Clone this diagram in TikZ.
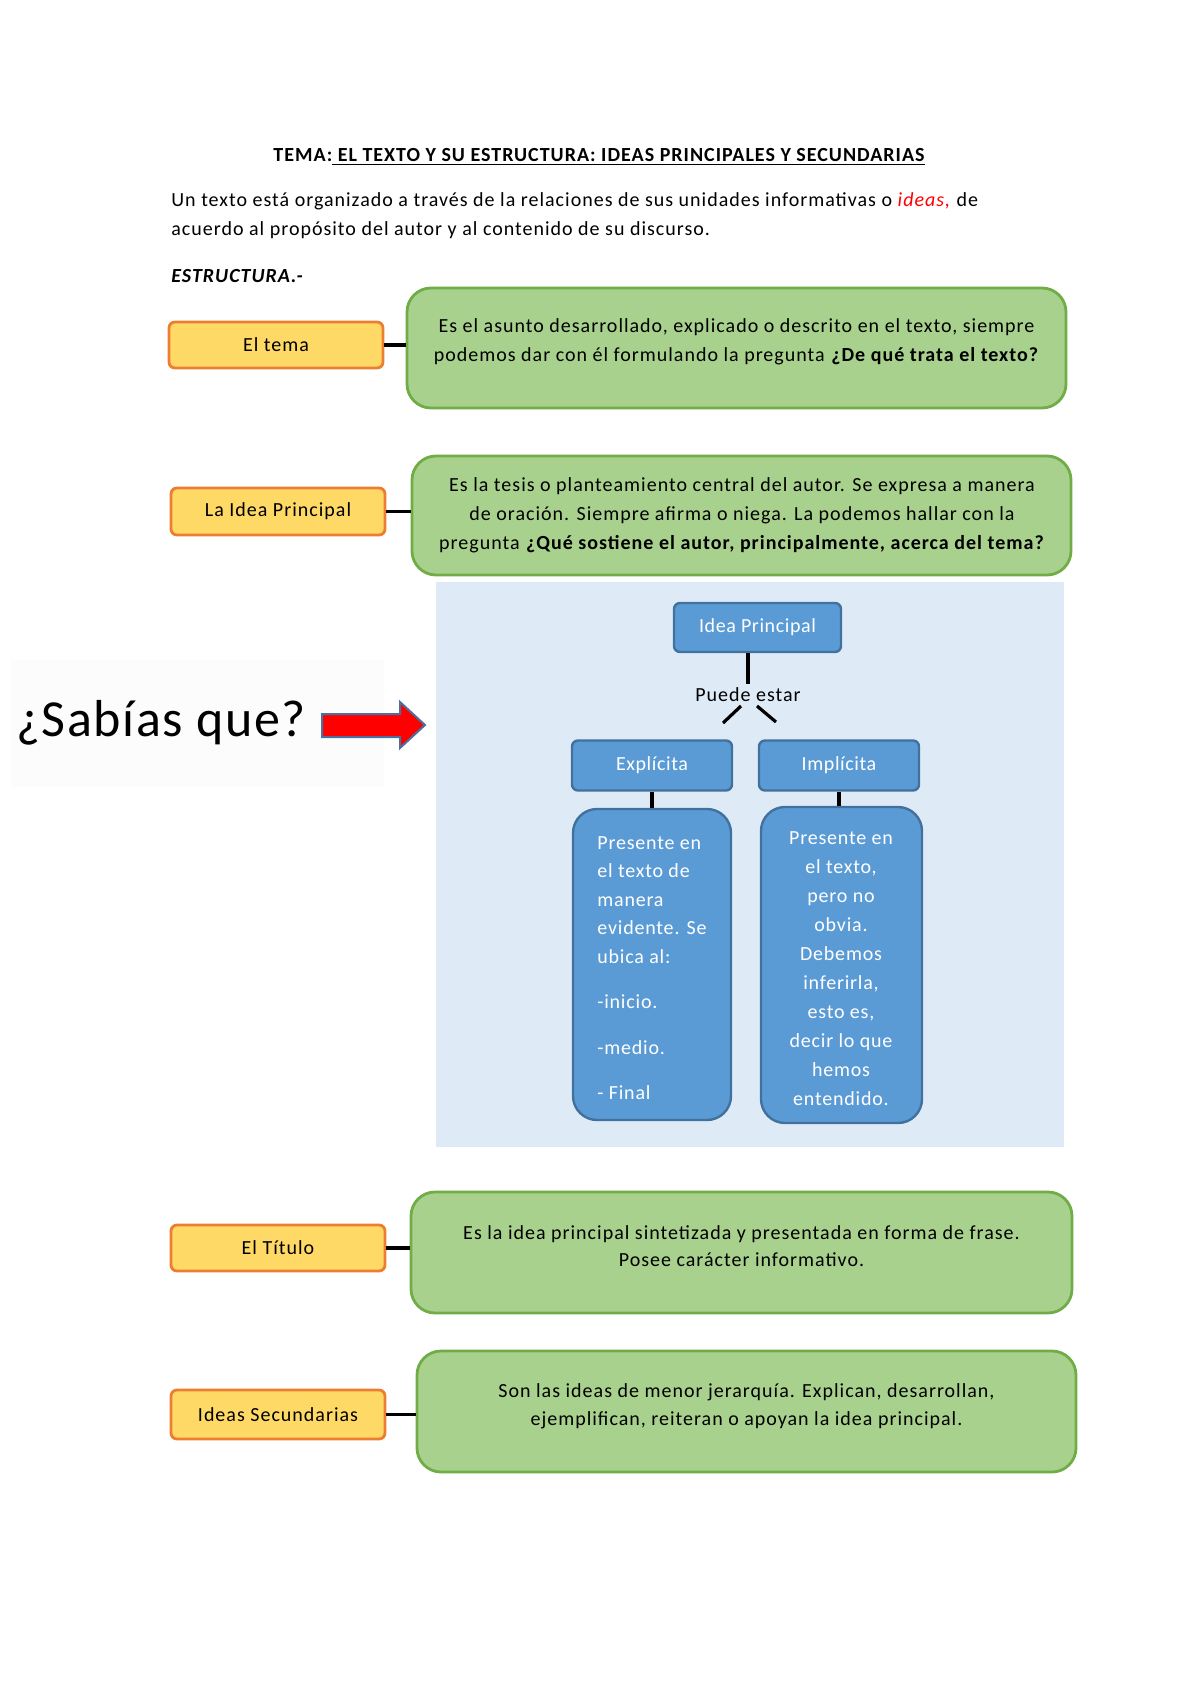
\documentclass[tikz,border=0pt]{standalone}
\usepackage{fontspec}
\setmainfont{Carlito}
\usetikzlibrary{calc}
\definecolor{yfill}{HTML}{FFD966}
\definecolor{oborder}{HTML}{ED7D31}
\definecolor{gfill}{HTML}{A9D18E}
\definecolor{gborder}{HTML}{70AD47}
\definecolor{bfill}{HTML}{5B9BD5}
\definecolor{bborder}{HTML}{41719C}
\definecolor{lbg}{HTML}{DEEBF7}
\definecolor{arrowborder}{HTML}{4A70A0}
\newcommand\docfont{\fontsize{10}{14.5}\selectfont\addfontfeatures{LetterSpace=5}}
\begin{document}
\begin{tikzpicture}[x=0.5pt,y=-0.5pt,
 label box/.style={draw=oborder, fill=yfill, line width=1.4pt, rounded corners=3pt, minimum width=107pt, minimum height=23pt, inner sep=0pt, font=\docfont},
 green box/.style={draw=gborder, fill=gfill, line width=1.4pt, rounded corners=12pt, minimum width=329.5pt, minimum height=60pt, inner sep=0pt},
 gtext/.style={align=center, font=\docfont, inner sep=0pt},
 link/.style={line width=1.6pt},
 blue box/.style={draw=bborder, fill=bfill, line width=1.2pt, rounded corners=3pt, text=white, inner sep=0pt, font=\fontsize{10}{12}\selectfont\addfontfeatures{LetterSpace=3}},
 blue tall/.style={draw=bborder, fill=bfill, line width=1.2pt, rounded corners=12pt, inner sep=0pt},
 btext/.style={text=white, inner sep=0pt, font=\fontsize{10}{14.25}\selectfont\addfontfeatures{LetterSpace=4}},
]
\useasboundingbox (0,0) rectangle (1200,1696);
\fill[white] (0,0) rectangle (1200,1696);

% heading
\node[inner sep=0pt, font=\docfont\bfseries] (title) at (599,157) {TEMA:\underline{\ EL TEXTO Y SU ESTRUCTURA: IDEAS PRINCIPALES Y SECUNDARIAS}};
\node[anchor=west, align=left, inner sep=0pt, font=\docfont] (para) at (171,216) {Un texto está organizado a través de la relaciones de sus unidades informativas o \textcolor{red}{\textit{ideas,}} de\\acuerdo al propósito del autor y al contenido de su discurso.};
\node[anchor=west, inner sep=0pt, font=\docfont\bfseries\itshape] (estr) at (171,276) {ESTRUCTURA.-};

% orange labels
\node[label box] (tema) at (276,345) {El tema};
\node[label box, minimum height=23.5pt] (ideap) at (278,511.5) {La Idea Principal};
\node[label box] (titulo) at (278,1248) {El Título};
\node[label box, minimum height=24.5pt] (secund) at (278,1414.5) {Ideas Secundarias};

% green boxes
\node[green box] (g1) at (736.5,348) {};
\node[gtext] (g1t) at (736.5,342) {Es el asunto desarrollado, explicado o descrito en el texto, siempre\\podemos dar con él formulando la pregunta \textbf{¿De qué trata el texto?}};
\node[green box, minimum height=59.5pt] (g2) at (741.5,515.5) {};
\node[gtext] (g2t) at (742,515) {Es la tesis o planteamiento central del autor. Se expresa a manera\\de oración. Siempre afirma o niega. La podemos hallar con la\\pregunta \textbf{¿Qué sostiene el autor, principalmente, acerca del tema?}};
\node[green box, minimum width=330.5pt, minimum height=60.5pt] (g3) at (741.5,1252.5) {};
\node[gtext, font=\fontsize{10}{13.5}\selectfont\addfontfeatures{LetterSpace=5}] (g3t) at (741.5,1246) {Es la idea principal sintetizada y presentada en forma de frase.\\Posee carácter informativo.};
\node[green box, minimum height=60.5pt] (g4) at (746.5,1411.5) {};
\node[gtext, font=\fontsize{10}{14}\selectfont\addfontfeatures{LetterSpace=5}] (g4t) at (746.5,1406) {Son las ideas de menor jerarquía. Explican, desarrollan,\\ejemplifican, reiteran o apoyan la idea principal.};

\draw[link] (tema.east) -- (tema.east -| g1.west);
\draw[link] (ideap.east) -- (ideap.east -| g2.west);
\draw[link] (titulo.east) -- (titulo.east -| g3.west);
\draw[link] (secund.east) -- (secund.east -| g4.west);

% ¿Sabías que?
\fill[black!1] (11,660) rectangle (384,787);
\node[anchor=base west, inner sep=0pt, font=\fontsize{26}{30}\selectfont\addfontfeatures{LetterSpace=3}] (sabias) at (16,736) {¿Sabías que?};
\draw[fill=red, draw=arrowborder, line width=1pt] (322,714) -- (400,714) -- (400,702) -- (425,725) -- (400,748) -- (400,737) -- (322,737) -- cycle;

% blue panel
\node[fill=lbg, minimum width=314pt, minimum height=282.5pt, inner sep=0pt] (panel) at (750,864.5) {};
\node[blue box, minimum width=83.5pt, minimum height=24.5pt] (ip) at (757.5,627.5) {\raisebox{-1pt}{Idea Principal}};
\node[inner sep=0pt, font=\docfont] (puede) at (748,695) {Puede estar};
\node[blue box, minimum width=80pt, minimum height=25pt] (exp) at (652,765.5) {\raisebox{-1pt}{Explícita}};
\node[blue box, minimum width=80pt, minimum height=25pt] (imp) at (839,765.5) {\raisebox{-1pt}{Implícita}};
\node[blue tall, minimum width=79pt, minimum height=155.5pt] (expd) at (652,964.5) {};
\node[blue tall, minimum width=80.5pt, minimum height=158pt] (impd) at (841.5,965) {};
\node[btext, anchor=west, align=left] (expt) at (597,968) {Presente en\\el texto de\\manera\\evidente. Se\\ubica al:\\[8.5pt]-inicio.\\[8.5pt]-medio.\\[8.5pt]- Final};
\node[btext, align=center, font=\fontsize{10}{14.5}\selectfont\addfontfeatures{LetterSpace=4}] (impt) at (841,968.5) {Presente en\\el texto,\\pero no\\obvia.\\Debemos\\inferirla,\\esto es,\\decir lo que\\hemos\\entendido.};

\draw[link] (puede.north |- ip.south) -- ([yshift=2pt]puede.north);
\coordinate (s1a) at (741,706);
\coordinate (s1b) at (723,723);
\coordinate (s2a) at (757,706);
\coordinate (s2b) at (776,722);
\draw[link] (s1a) -- (s1b);
\draw[link] (s2a) -- (s2b);
\draw[link] (exp.south) -- (exp.south |- expd.north);
\draw[link] (imp.south) -- (imp.south |- impd.north);
\end{tikzpicture}
\end{document}
